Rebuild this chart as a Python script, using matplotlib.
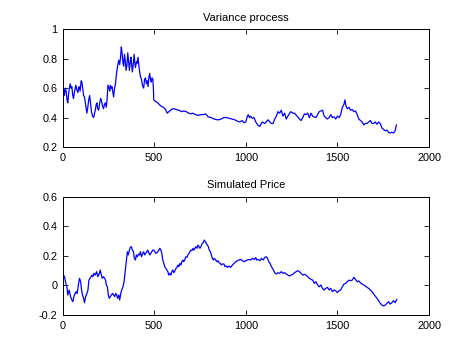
import matplotlib
matplotlib.use("Agg")
import matplotlib.pyplot as plt

# ---- Variance process (keypoints) ----
var_t = [0, 5, 10, 15, 20, 25, 29, 35, 42, 47, 51, 56, 60, 66, 73, 78, 84, 88, 91, 96,
         102, 106, 110, 115, 120, 127, 133, 138, 143, 148, 153, 158, 164, 170, 175, 179,
         184, 188, 192, 197, 203, 208, 212, 218, 224, 229, 234, 239, 243, 248, 254, 258,
         261, 266, 270, 275, 279, 284, 288, 293, 297, 302, 307, 312, 316, 321, 325, 330,
         334, 338, 343, 347, 352, 356, 361, 365, 370, 374, 378, 381, 386, 391, 395, 398,
         404, 408, 412, 416, 420, 425, 431, 436, 443, 448, 453, 458, 462, 467, 471, 476,
         480, 484, 489, 493, 496, 498, 507, 520, 535, 550, 562, 571, 580, 590, 600, 608,
         620, 635, 650, 662, 675, 690, 699, 712, 725, 740, 755, 770, 781, 795, 810, 828,
         845, 854, 865, 880, 895, 910, 925, 940, 955, 968, 980, 990, 1000, 1009, 1014, 1020,
         1027, 1035, 1045, 1055, 1065, 1077, 1090, 1104, 1122, 1131, 1140, 1149, 1158, 1167,
         1176, 1185, 1194, 1203, 1212, 1221, 1230, 1245, 1257, 1266, 1280, 1293, 1302, 1311,
         1320, 1329, 1338, 1347, 1356, 1365, 1383, 1392, 1401, 1419, 1428, 1437, 1446, 1455,
         1464, 1473, 1482, 1491, 1500, 1510, 1518, 1527, 1536, 1541, 1547, 1554, 1563, 1572,
         1581, 1590, 1599, 1608, 1617, 1626, 1635, 1644, 1653, 1662, 1671, 1680, 1689, 1698,
         1707, 1716, 1725, 1734, 1743, 1752, 1761, 1770, 1779, 1788, 1797, 1806, 1815, 1822]
var_v = [0.57, 0.60, 0.55, 0.60, 0.58, 0.52, 0.50, 0.58, 0.63, 0.60, 0.61, 0.55, 0.53, 0.58,
         0.62, 0.59, 0.57, 0.60, 0.61, 0.58, 0.65, 0.64, 0.60, 0.55, 0.54, 0.48, 0.43, 0.47,
         0.52, 0.55, 0.50, 0.44, 0.41, 0.40, 0.43, 0.45, 0.49, 0.50, 0.46, 0.45, 0.50, 0.53,
         0.52, 0.48, 0.46, 0.49, 0.50, 0.47, 0.52, 0.62, 0.60, 0.58, 0.62, 0.60, 0.61, 0.57,
         0.54, 0.60, 0.62, 0.68, 0.72, 0.76, 0.79, 0.76, 0.80, 0.88, 0.84, 0.77, 0.75, 0.83,
         0.78, 0.72, 0.76, 0.84, 0.78, 0.72, 0.78, 0.81, 0.75, 0.71, 0.76, 0.83, 0.77, 0.74,
         0.78, 0.77, 0.81, 0.76, 0.72, 0.68, 0.66, 0.62, 0.60, 0.66, 0.67, 0.63, 0.65, 0.61,
         0.67, 0.70, 0.66, 0.64, 0.67, 0.66, 0.60, 0.52, 0.51, 0.50, 0.48, 0.47, 0.455, 0.43,
         0.44, 0.45, 0.46, 0.46, 0.455, 0.45, 0.44, 0.445, 0.44, 0.43, 0.425, 0.43, 0.42,
         0.415, 0.42, 0.42, 0.425, 0.405, 0.40, 0.39, 0.385, 0.385, 0.39, 0.40, 0.40, 0.395,
         0.39, 0.385, 0.375, 0.37, 0.38, 0.365, 0.37, 0.41, 0.42, 0.40, 0.41, 0.395, 0.40,
         0.37, 0.35, 0.34, 0.37, 0.36, 0.385, 0.37, 0.36, 0.36, 0.39, 0.41, 0.44, 0.43, 0.45,
         0.41, 0.43, 0.39, 0.41, 0.44, 0.43, 0.43, 0.41, 0.39, 0.38, 0.40, 0.425, 0.42, 0.43,
         0.40, 0.43, 0.41, 0.40, 0.42, 0.44, 0.45, 0.41, 0.40, 0.39, 0.40, 0.42, 0.40, 0.405,
         0.39, 0.41, 0.40, 0.42, 0.47, 0.49, 0.52, 0.48, 0.46, 0.47, 0.45, 0.455, 0.44, 0.445,
         0.42, 0.39, 0.38, 0.37, 0.35, 0.36, 0.36, 0.37, 0.38, 0.36, 0.36, 0.37, 0.355, 0.37,
         0.36, 0.33, 0.32, 0.31, 0.315, 0.30, 0.295, 0.30, 0.295, 0.31, 0.35]

# ---- Simulated price (keypoints) ----
price_t = [0, 5, 11, 18, 24, 29, 36, 44, 51, 57, 62, 69, 75, 80, 88, 93, 99, 104, 109, 115,
           120, 126, 133, 139, 144, 150, 155, 161, 166, 172, 179, 186, 193, 201, 206, 212,
           217, 223, 230, 235, 239, 245, 250, 255, 261, 266, 274, 279, 285, 290, 296, 301,
           307, 312, 318, 323, 330, 336, 343, 349, 354, 359, 365, 370, 376, 381, 387, 392,
           398, 403, 409, 414, 420, 425, 431, 438, 443, 449, 454, 460, 465, 471, 476, 482,
           487, 493, 498, 504, 509, 515, 520, 526, 531, 537, 542, 547, 553, 558, 564, 569,
           575, 580, 586, 591, 597, 602, 608, 613, 619, 624, 630, 635, 641, 646, 651, 657,
           662, 668, 673, 679, 684, 690, 695, 701, 706, 712, 717, 723, 728, 734, 739, 745,
           750, 755, 763, 768, 774, 779, 785, 790, 796, 801, 807, 812, 818, 823, 828, 836,
           843, 849, 854, 861, 867, 872, 881, 887, 894, 901, 909, 918, 927, 936, 945, 954,
           964, 973, 982, 991, 1000, 1009, 1018, 1027, 1036, 1046, 1055, 1059, 1068, 1077,
           1086, 1095, 1104, 1113, 1119, 1126, 1133, 1140, 1149, 1158, 1167, 1176, 1185, 1194,
           1203, 1212, 1221, 1230, 1239, 1248, 1257, 1266, 1275, 1284, 1293, 1302, 1311, 1320,
           1329, 1338, 1347, 1356, 1365, 1374, 1383, 1392, 1401, 1410, 1419, 1428, 1437, 1446,
           1455, 1464, 1473, 1482, 1491, 1500, 1509, 1518, 1527, 1536, 1545, 1554, 1563, 1572,
           1581, 1590, 1599, 1608, 1617, 1626, 1635, 1644, 1653, 1662, 1671, 1680, 1689, 1698,
           1707, 1716, 1725, 1734, 1743, 1752, 1761, 1770, 1779, 1788, 1797, 1806, 1815, 1824]
price_v = [0.036, 0.070, 0.059, 0.014, -0.009, -0.065, -0.031, -0.076, -0.099, -0.110,
           -0.076, -0.054, -0.042, -0.054, 0.014, 0.048, 0.025, -0.031, -0.065, -0.087,
           -0.117, -0.076, -0.054, -0.031, 0.036, 0.048, 0.059, 0.070, 0.059, 0.082, 0.070,
           0.093, 0.059, 0.082, 0.104, 0.070, 0.048, 0.059, 0.048, 0.036, 0.003, -0.009,
           -0.065, -0.087, -0.076, -0.065, -0.054, -0.065, -0.076, -0.054, -0.065, -0.087,
           -0.065, -0.099, -0.054, -0.031, -0.009, 0.025, 0.104, 0.172, 0.228, 0.206, 0.239,
           0.257, 0.262, 0.239, 0.228, 0.183, 0.172, 0.206, 0.194, 0.212, 0.206, 0.228, 0.194,
           0.217, 0.228, 0.206, 0.217, 0.228, 0.239, 0.221, 0.206, 0.217, 0.228, 0.239, 0.239,
           0.228, 0.217, 0.221, 0.228, 0.239, 0.251, 0.239, 0.217, 0.172, 0.149, 0.127, 0.115,
           0.104, 0.093, 0.070, 0.082, 0.070, 0.093, 0.104, 0.086, 0.100, 0.115, 0.122, 0.138,
           0.127, 0.149, 0.138, 0.160, 0.172, 0.160, 0.176, 0.194, 0.190, 0.206, 0.217, 0.228,
           0.239, 0.235, 0.251, 0.239, 0.251, 0.262, 0.251, 0.273, 0.262, 0.251, 0.262, 0.284,
           0.289, 0.307, 0.296, 0.284, 0.273, 0.262, 0.239, 0.228, 0.206, 0.183, 0.172, 0.183,
           0.172, 0.160, 0.167, 0.154, 0.149, 0.138, 0.145, 0.145, 0.127, 0.131, 0.122, 0.131,
           0.122, 0.138, 0.149, 0.160, 0.167, 0.172, 0.176, 0.167, 0.160, 0.167, 0.172, 0.176,
           0.172, 0.183, 0.176, 0.188, 0.172, 0.176, 0.167, 0.183, 0.172, 0.190, 0.194, 0.183,
           0.160, 0.149, 0.127, 0.109, 0.086, 0.077, 0.086, 0.082, 0.093, 0.082, 0.086, 0.077,
           0.070, 0.064, 0.070, 0.075, 0.086, 0.093, 0.100, 0.093, 0.082, 0.070, 0.075, 0.070,
           0.059, 0.048, 0.041, 0.036, 0.014, 0.025, 0.003, -0.009, 0.003, -0.020, -0.031,
           -0.020, -0.013, -0.031, -0.020, -0.042, -0.031, -0.036, -0.049, -0.036, -0.031,
           -0.009, 0.009, 0.014, 0.025, 0.036, 0.032, 0.036, 0.055, 0.041, 0.025, 0.030, 0.018,
           0.009, 0.003, -0.004, -0.013, -0.020, -0.031, -0.042, -0.058, -0.072, -0.087,
           -0.103, -0.121, -0.133, -0.139, -0.133, -0.121, -0.110, -0.126, -0.117, -0.103,
           -0.117, -0.094]

titles = ["Variance process", "Simulated Price"]
x_ticks = [0, 500, 1000, 1500, 2000]
var_yticks = [0.2, 0.4, 0.6, 0.8, 1.0]
var_ylabels = ["0.2", "0.4", "0.6", "0.8", "1"]
price_yticks = [-0.2, 0, 0.2, 0.4, 0.6]
price_ylabels = ["-0.2", "0", "0.2", "0.4", "0.6"]

plt.rcParams["font.family"] = ["Liberation Sans", "DejaVu Sans"]
plt.rcParams["axes.unicode_minus"] = False

fig = plt.figure(figsize=(4.74, 3.55), dpi=100)
W, H = 474, 355
ax1 = fig.add_axes([62.5 / W, 1 - 147 / H, (429 - 62.5) / W, (147 - 29.3) / H])
ax2 = fig.add_axes([62.5 / W, 1 - 315 / H, (429 - 62.5) / W, (315 - 196.7) / H])

specs = [
    (ax1, var_t, var_v, (0.2, 1.0), var_yticks, var_ylabels, titles[0]),
    (ax2, price_t, price_v, (-0.2, 0.6), price_yticks, price_ylabels, titles[1]),
]
for ax, t, v, ylim, yt, yl, title in specs:
    ax.plot(t, v, color="#0000ff", lw=0.9)
    ax.set_xlim(0, 2000)
    ax.set_ylim(*ylim)
    ax.set_xticks(x_ticks)
    ax.set_xticklabels([str(x) for x in x_ticks])
    ax.set_yticks(yt)
    ax.set_yticklabels(yl)
    ax.tick_params(direction="in", length=3.5, width=0.6, top=True, right=True,
                   labelsize=7.8, colors="black")
    ax.tick_params(axis="x", pad=4.5)
    ax.tick_params(axis="y", pad=3.5)
    for s in ax.spines.values():
        s.set_linewidth(0.7)
        s.set_color("black")
    ax.set_title(title, fontsize=8, pad=6)

fig.savefig("out.png", dpi=100, facecolor="white")
